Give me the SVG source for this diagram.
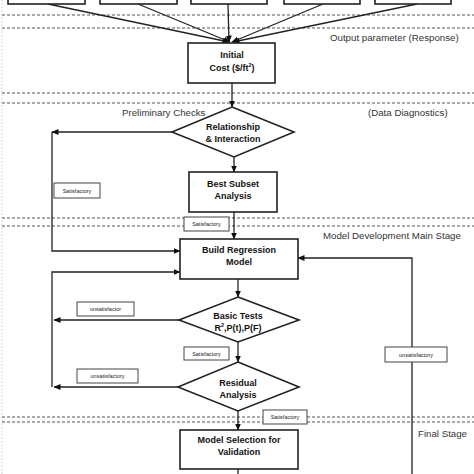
<svg xmlns="http://www.w3.org/2000/svg" width="474" height="474" viewBox="0 0 474 474">
<defs>
<marker id="ah" markerWidth="7" markerHeight="6" refX="6.5" refY="3" orient="auto" markerUnits="userSpaceOnUse">
<path d="M0,0 L7,3 L0,6 Z" fill="#111"/>
</marker>
<style>
.box{fill:#fff;stroke:#222;stroke-width:1.6}
.sbox{fill:#fff;stroke:#444;stroke-width:1}
.dash{stroke:#555;stroke-width:1.2;stroke-dasharray:3 2;fill:none}
.ln{stroke:#222;stroke-width:1.3;fill:none}
.t{font-family:"Liberation Sans",Arial,sans-serif;font-size:9px;font-weight:bold;fill:#111;text-anchor:middle}
.s{font-family:"Liberation Sans",Arial,sans-serif;font-size:5.5px;fill:#222;text-anchor:middle}
.lab{font-family:"Liberation Sans",Arial,sans-serif;font-size:9.7px;fill:#333}
</style>
</defs>
<rect width="474" height="474" fill="#fff"/>
<g id="bands">
<line x1="2" y1="0" x2="2" y2="474" stroke="#ccc" stroke-width="1" stroke-dasharray="1.5 2"/>
<line class="dash" x1="2" y1="15" x2="474" y2="15"/>
<line class="dash" x1="2" y1="28" x2="474" y2="28"/>
<line class="dash" x1="2" y1="93" x2="474" y2="93"/>
<line class="dash" x1="2" y1="103" x2="474" y2="103"/>
<line class="dash" x1="2" y1="218" x2="474" y2="218"/>
<line class="dash" x1="2" y1="226" x2="474" y2="226"/>
<line class="dash" x1="2" y1="417" x2="474" y2="417"/>
<line class="dash" x1="2" y1="422" x2="474" y2="422"/>
<text class="lab" x="330" y="41">Output  parameter (Response)</text>
<text class="lab" x="122" y="116">Preliminary Checks</text>
<text class="lab" x="368" y="116">(Data Diagnostics)</text>
<text class="lab" x="323" y="239">Model Development Main Stage</text>
<text class="lab" x="418" y="437">Final Stage</text>
</g>
<g id="connectors">
<line class="ln" x1="48" y1="4" x2="229" y2="42" marker-end="url(#ah)"/>
<line class="ln" x1="138" y1="4" x2="230" y2="42" marker-end="url(#ah)"/>
<line class="ln" x1="228" y1="4" x2="229" y2="42" marker-end="url(#ah)"/>
<line class="ln" x1="323" y1="4" x2="232" y2="42" marker-end="url(#ah)"/>
<line class="ln" x1="417" y1="4" x2="233" y2="42" marker-end="url(#ah)"/>
<line class="ln" x1="232" y1="83" x2="232" y2="107" marker-end="url(#ah)"/>
<line class="ln" x1="172" y1="132" x2="52" y2="132" marker-end="url(#ah)"/>
<polyline class="ln" points="52,132 52,251 180,251" marker-end="url(#ah)"/>
<line class="ln" x1="234" y1="157" x2="234" y2="172" marker-end="url(#ah)"/>
<line class="ln" x1="234" y1="212" x2="234" y2="239" marker-end="url(#ah)"/>
<polyline class="ln" points="52,387 52,272 180,272" marker-end="url(#ah)"/>
<line class="ln" x1="179" y1="320" x2="54" y2="320" marker-end="url(#ah)"/>
<line class="ln" x1="178" y1="387" x2="54" y2="387" marker-end="url(#ah)"/>
<line class="ln" x1="238" y1="279" x2="238" y2="297" marker-end="url(#ah)"/>
<line class="ln" x1="238" y1="342" x2="238" y2="362" marker-end="url(#ah)"/>
<line class="ln" x1="238" y1="411" x2="238" y2="430" marker-end="url(#ah)"/>
<line class="ln" x1="238" y1="469" x2="238" y2="474"/>
<polyline class="ln" points="412,474 412,258 298,258" marker-end="url(#ah)"/>
</g>
<g id="top1"><rect class="box" x="8" y="-20" width="77" height="24"/></g>
<g id="top2"><rect class="box" x="100" y="-20" width="77" height="24"/></g>
<g id="top3"><rect class="box" x="191" y="-20" width="76" height="24"/></g>
<g id="top4"><rect class="box" x="284" y="-20" width="76" height="24"/></g>
<g id="top5"><rect class="box" x="375" y="-20" width="76" height="24"/></g>
<g id="initial-cost">
<rect class="box" x="188" y="43" width="87" height="40"/>
<text class="t" x="232" y="58">Initial</text>
<text class="t" x="232" y="71">Cost ($/ft<tspan font-size="5.5" dy="-4">2</tspan><tspan dy="4">)</tspan></text>
</g>
<g id="relationship">
<polygon class="box" points="232,107 294,132 234,157 172,132"/>
<text class="t" x="233" y="130">Relationship</text>
<text class="t" x="233" y="142">&amp; Interaction</text>
</g>
<g id="best-subset">
<rect class="box" x="189" y="172" width="88" height="40"/>
<text class="t" x="233" y="187">Best Subset</text>
<text class="t" x="233" y="199">Analysis</text>
</g>
<g id="build-regression">
<rect class="box" x="180" y="239" width="118" height="40"/>
<text class="t" x="239" y="253">Build Regression</text>
<text class="t" x="239" y="265">Model</text>
</g>
<g id="basic-tests">
<polygon class="box" points="238,297 299,320 238,342 179,320"/>
<text class="t" x="238" y="319">Basic Tests</text>
<text class="t" x="238" y="331">R<tspan font-size="5.5" dy="-4">2</tspan><tspan dy="4">,P(t),P(F)</tspan></text>
</g>
<g id="residual">
<polygon class="box" points="238,362 299,387 238,411 178,387"/>
<text class="t" x="238" y="386">Residual</text>
<text class="t" x="238" y="398">Analysis</text>
</g>
<g id="model-selection">
<rect class="box" x="180" y="430" width="118" height="39"/>
<text class="t" x="239" y="443">Model Selection for</text>
<text class="t" x="239" y="455">Validation</text>
</g>
<g id="label-sat1"><rect class="sbox" x="54" y="183" width="46" height="15"/><text class="s" x="77" y="192.5">Satisfactory</text></g>
<g id="label-sat2"><rect class="sbox" x="184" y="217" width="45" height="14"/><text class="s" x="206.5" y="226">Satisfactory</text></g>
<g id="label-unsat1"><rect class="sbox" x="77" y="302" width="57" height="14"/><text class="s" x="105.5" y="311">unsatisfactor</text></g>
<g id="label-sat3"><rect class="sbox" x="184" y="347" width="45" height="13"/><text class="s" x="206.5" y="355.5">Satisfactory</text></g>
<g id="label-unsat2"><rect class="sbox" x="77" y="369" width="61" height="14"/><text class="s" x="107.5" y="378">unsatisfactory</text></g>
<g id="label-sat4"><rect class="sbox" x="263" y="410" width="44" height="14"/><text class="s" x="285" y="419">Satisfactory</text></g>
<g id="label-unsat3"><rect class="sbox" x="385" y="347" width="62" height="15"/><text class="s" x="416" y="356.5">unsatisfactory</text></g>
</svg>
